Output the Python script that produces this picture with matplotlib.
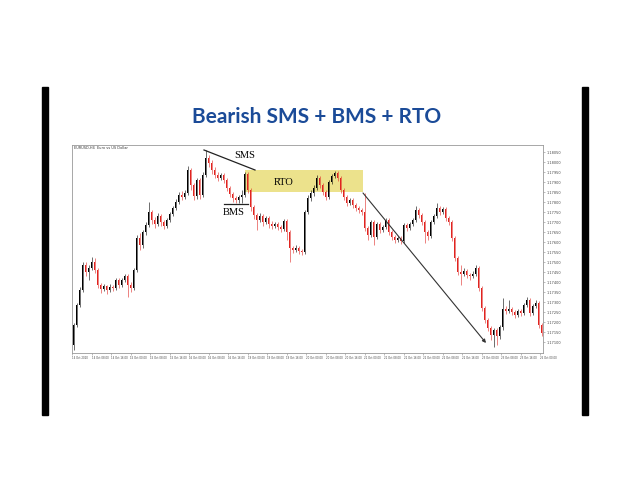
import numpy as np
import matplotlib.pyplot as plt
from matplotlib.patches import Rectangle

# EURUSD H4 candles (open of each bar = previous close)
first_open = 1.17085
closes = [
    1.17185, 1.17285, 1.17360, 1.17485, 1.17450, 1.17470, 1.17500, 1.17460, 1.17385, 1.17365,
    1.17380, 1.17360, 1.17375, 1.17370, 1.17410, 1.17385, 1.17410, 1.17430, 1.17385, 1.17370,
    1.17460, 1.17620, 1.17585, 1.17650, 1.17685, 1.17750, 1.17710, 1.17690, 1.17730, 1.17700,
    1.17680, 1.17710, 1.17740, 1.17770, 1.17800, 1.17835, 1.17825, 1.17845, 1.17960, 1.17885,
    1.17830, 1.17910, 1.17835, 1.17935, 1.18020, 1.17995, 1.17960, 1.17935, 1.17920, 1.17935,
    1.17910, 1.17870, 1.17840, 1.17820, 1.17810, 1.17825, 1.17835, 1.17940, 1.17860, 1.17775,
    1.17735, 1.17710, 1.17730, 1.17700, 1.17720, 1.17690, 1.17680, 1.17690, 1.17675, 1.17665,
    1.17705, 1.17650, 1.17570, 1.17560, 1.17570, 1.17555, 1.17550, 1.17750, 1.17820, 1.17845,
    1.17870, 1.17920, 1.17885, 1.17850, 1.17825, 1.17900, 1.17930, 1.17945, 1.17920, 1.17860,
    1.17825, 1.17795, 1.17810, 1.17785, 1.17770, 1.17760, 1.17750, 1.17670, 1.17635, 1.17700,
    1.17625, 1.17690, 1.17660, 1.17675, 1.17710, 1.17650, 1.17625, 1.17610, 1.17620, 1.17605,
    1.17685, 1.17670, 1.17690, 1.17710, 1.17760, 1.17735, 1.17700, 1.17650, 1.17630, 1.17700,
    1.17730, 1.17770, 1.17750, 1.17765, 1.17720, 1.17700, 1.17620, 1.17520, 1.17450, 1.17440,
    1.17455, 1.17435, 1.17430, 1.17440, 1.17470, 1.17370, 1.17270, 1.17210, 1.17170, 1.17135,
    1.17160, 1.17130, 1.17175, 1.17265, 1.17255, 1.17265, 1.17250, 1.17235, 1.17255, 1.17245,
    1.17285, 1.17310, 1.17245, 1.17280, 1.17295, 1.17185, 1.17145,
]
highs = [
    1.17195, 1.17295, 1.17375, 1.17500, 1.17500, 1.17485, 1.17525, 1.17520, 1.17470, 1.17395,
    1.17390, 1.17385, 1.17390, 1.17385, 1.17420, 1.17420, 1.17420, 1.17440, 1.17440, 1.17400,
    1.17470, 1.17635, 1.17645, 1.17660, 1.17700, 1.17800, 1.17760, 1.17725, 1.17745, 1.17740,
    1.17710, 1.17720, 1.17750, 1.17780, 1.17815, 1.17850, 1.17855, 1.17860, 1.17980, 1.17970,
    1.17895, 1.17920, 1.17920, 1.17950, 1.18060, 1.18035, 1.18010, 1.17975, 1.17950, 1.17945,
    1.17945, 1.17920, 1.17880, 1.17850, 1.17830, 1.17835, 1.17860, 1.17950, 1.17950, 1.17870,
    1.17785, 1.17745, 1.17745, 1.17740, 1.17730, 1.17730, 1.17705, 1.17700, 1.17700, 1.17685,
    1.17715, 1.17715, 1.17660, 1.17580, 1.17585, 1.17580, 1.17565, 1.17760, 1.17835, 1.17860,
    1.17885, 1.17935, 1.17930, 1.17895, 1.17860, 1.17910, 1.17940, 1.17955, 1.17955, 1.17930,
    1.17870, 1.17835, 1.17820, 1.17820, 1.17795, 1.17780, 1.17770, 1.17845, 1.17680, 1.17710,
    1.17710, 1.17700, 1.17700, 1.17685, 1.17720, 1.17720, 1.17660, 1.17635, 1.17630, 1.17630,
    1.17695, 1.17695, 1.17700, 1.17720, 1.17780, 1.17770, 1.17745, 1.17710, 1.17660, 1.17710,
    1.17740, 1.17795, 1.17780, 1.17775, 1.17775, 1.17730, 1.17710, 1.17630, 1.17530, 1.17485,
    1.17470, 1.17465, 1.17445, 1.17455, 1.17485, 1.17480, 1.17380, 1.17280, 1.17220, 1.17180,
    1.17170, 1.17170, 1.17185, 1.17320, 1.17280, 1.17310, 1.17275, 1.17260, 1.17265, 1.17265,
    1.17295, 1.17325, 1.17320, 1.17290, 1.17310, 1.17305, 1.17195,
]
lows = [
    1.17060, 1.17175, 1.17275, 1.17350, 1.17430, 1.17410, 1.17460, 1.17445, 1.17370, 1.17345,
    1.17355, 1.17340, 1.17350, 1.17355, 1.17360, 1.17370, 1.17375, 1.17400, 1.17325, 1.17350,
    1.17360, 1.17450, 1.17560, 1.17570, 1.17635, 1.17675, 1.17690, 1.17670, 1.17680, 1.17680,
    1.17665, 1.17670, 1.17700, 1.17730, 1.17760, 1.17790, 1.17810, 1.17815, 1.17835, 1.17860,
    1.17810, 1.17815, 1.17815, 1.17825, 1.17925, 1.17975, 1.17940, 1.17920, 1.17905, 1.17910,
    1.17895, 1.17855, 1.17825, 1.17800, 1.17795, 1.17795, 1.17795, 1.17825, 1.17845, 1.17755,
    1.17715, 1.17660, 1.17700, 1.17680, 1.17690, 1.17670, 1.17665, 1.17670, 1.17660, 1.17650,
    1.17655, 1.17610, 1.17500, 1.17545, 1.17550, 1.17540, 1.17535, 1.17540, 1.17740, 1.17805,
    1.17830, 1.17860, 1.17870, 1.17835, 1.17810, 1.17815, 1.17890, 1.17920, 1.17905, 1.17845,
    1.17810, 1.17780, 1.17785, 1.17770, 1.17755, 1.17745, 1.17735, 1.17655, 1.17610, 1.17625,
    1.17585, 1.17615, 1.17645, 1.17650, 1.17665, 1.17635, 1.17610, 1.17595, 1.17600, 1.17590,
    1.17595, 1.17655, 1.17660, 1.17680, 1.17700, 1.17720, 1.17685, 1.17595, 1.17610, 1.17620,
    1.17690, 1.17720, 1.17735, 1.17740, 1.17705, 1.17685, 1.17605, 1.17505, 1.17435, 1.17385,
    1.17430, 1.17420, 1.17410, 1.17420, 1.17430, 1.17355, 1.17255, 1.17195, 1.17155, 1.17110,
    1.17075, 1.17085, 1.17115, 1.17160, 1.17240, 1.17245, 1.17235, 1.17220, 1.17225, 1.17230,
    1.17235, 1.17275, 1.17230, 1.17235, 1.17270, 1.17170, 1.17130,
]

price_labels = ["1.18050", "1.18000", "1.17950", "1.17900", "1.17850", "1.17800", "1.17750",
                "1.17700", "1.17650", "1.17600", "1.17550", "1.17500", "1.17450", "1.17400",
                "1.17350", "1.17300", "1.17250", "1.17200", "1.17150", "1.17100"]
date_labels = ["14 Oct 2020", "14 Oct 08:00", "14 Oct 16:00", "15 Oct 00:00", "15 Oct 08:00",
               "15 Oct 16:00", "16 Oct 00:00", "16 Oct 08:00", "16 Oct 16:00", "19 Oct 00:00",
               "19 Oct 08:00", "19 Oct 16:00", "20 Oct 00:00", "20 Oct 08:00", "20 Oct 16:00",
               "21 Oct 00:00", "21 Oct 08:00", "21 Oct 16:00", "22 Oct 00:00", "22 Oct 08:00",
               "22 Oct 16:00", "23 Oct 00:00", "23 Oct 08:00", "23 Oct 16:00", "26 Oct 00:00"]

closes = np.array(closes)
opens = np.concatenate([[first_open], closes[:-1]])
highs = np.array(highs)
lows = np.array(lows)
idx = np.arange(len(closes))

fig = plt.figure(figsize=(6.38, 4.79), dpi=100)
fig.patch.set_facecolor('white')

# black side bars of the slide
for x0 in (42, 582):
    fig.patches.append(Rectangle((x0 / 638, 1 - 415 / 479), 6 / 638, (415 - 87) / 479,
                                 transform=fig.transFigure, color='black', zorder=0))

fig.text(317 / 638, 1 - 117 / 479, "Bearish SMS + BMS + RTO", ha='center', va='center',
         fontsize=15, fontweight='bold', family='Lato', color='#1b4b98')

ax = fig.add_axes([72 / 638, 1 - 353 / 479, (543 - 72) / 638, (353 - 145) / 479])
ax.set_xlim(-0.5, 156.5)
ax.set_ylim(1.17045, 1.18085)

up = closes >= opens
red = '#e02420'
for i in idx:
    c = 'black' if up[i] else red
    ax.vlines(i, lows[i], highs[i], color=c, lw=0.5, alpha=0.8, zorder=2)
body_lo = np.minimum(opens, closes)
body_h = np.maximum(np.abs(closes - opens), 0.00002)
ax.bar(idx, body_h, bottom=body_lo, width=0.65,
       color=np.where(up, 'black', red), zorder=3)

# RTO zone
ax.add_patch(Rectangle((57.2, 1.17850), 96.5 - 57.2, 1.17960 - 1.17850,
                       color='#ece28c', zorder=1, lw=0))
ax.text(70.2, 1.17900, "RTO", ha='center', va='center', fontsize=7.5,
        family='Liberation Serif', zorder=4)

# SMS line from swing high
ax.plot([43.5, 60.5], [1.18060, 1.17960], color='#222222', lw=0.9, zorder=4)
ax.text(57.2, 1.18035, "SMS", ha='center', va='center', fontsize=7.5,
        family='Liberation Serif')

# BMS line under the swing low
ax.plot([50, 58], [1.17790, 1.17790], color='#222222', lw=0.9, zorder=4)
ax.text(53.5, 1.17748, "BMS", ha='center', va='center', fontsize=7.5,
        family='Liberation Serif')

# projection arrow
ax.annotate("", xy=(137.5, 1.17095), xytext=(96.5, 1.17845),
            arrowprops=dict(arrowstyle='-|>', color='#333333', lw=0.8,
                            mutation_scale=5, shrinkA=0, shrinkB=0), zorder=4)

ax.text(0.005, 0.995, "EURUSD,H4  Euro vs US Dollar", transform=ax.transAxes,
        fontsize=2.5, va='top', ha='left', color='#333333')

ax.yaxis.tick_right()
ax.set_yticks([float(v) for v in price_labels])
ax.set_yticklabels(price_labels, fontsize=2.5, color='#444444')
ax.set_xticks([-0.5 + 6.5 * k for k in range(len(date_labels))])
ax.set_xticklabels(date_labels, fontsize=1.9, color='#444444', ha='left')
ax.tick_params(axis='both', length=1.5, width=0.4, pad=1, colors='#888888',
               labelcolor='#444444')
for s in ax.spines.values():
    s.set_color('#999999')
    s.set_linewidth(0.6)

fig.savefig('out.png', dpi=100, facecolor='white')
